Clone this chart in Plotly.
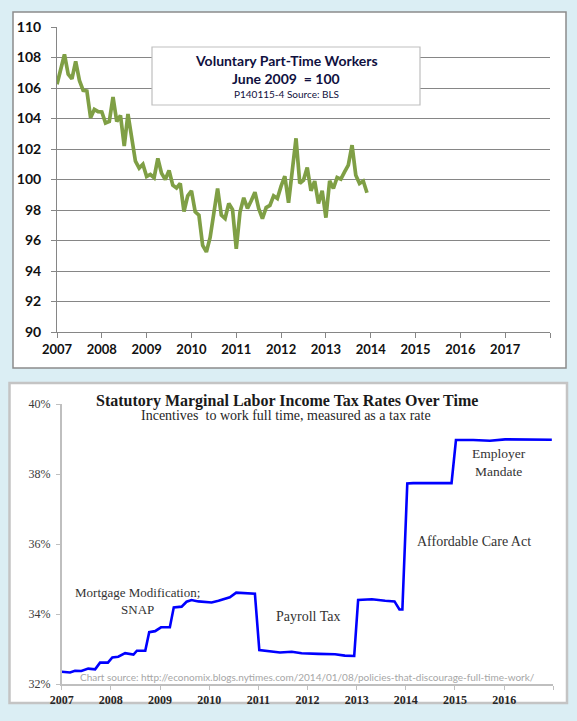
import plotly.graph_objects as go

W, H = 577, 721

# ---------------- Top chart: Voluntary Part-Time Workers (June 2009 = 100), monthly Jan 2007 - Dec 2013
vpt_first_year = 2007
vpt_values = [
    106.25, 107.3, 108.2, 106.9, 106.6, 107.75, 106.5, 105.85, 105.8, 104.05, 104.6, 104.45,
    104.43, 103.7, 103.8, 105.4, 103.8, 104.2, 102.2, 104.3, 102.8, 101.2, 100.75, 101.0,
    100.2, 100.33, 100.12, 101.38, 100.4, 100.0, 100.6, 99.63, 99.45, 99.74, 97.9, 98.93,
    99.26, 97.88, 97.66, 95.68, 95.25, 96.2, 97.8, 99.41, 97.66, 97.44, 98.43, 98.03,
    95.46, 97.86, 98.8, 98.1, 98.6, 99.17, 98.1, 97.44, 98.16, 98.3, 98.93, 98.75,
    99.56, 100.22, 98.47, 100.6, 102.7, 99.74, 99.96, 100.79, 99.26, 99.89, 98.43, 99.26,
    97.5, 99.91, 99.41, 100.13, 100.02, 100.5, 100.94, 102.25, 100.28, 99.74, 99.9, 99.13,
]
vpt_x = [vpt_first_year + i / 12 for i in range(len(vpt_values))]
top_year_ticks = list(range(2007, 2019))
top_year_labels = [str(y) for y in range(2007, 2018)] + [""]
top_value_ticks = list(range(90, 111, 2))

# ---------------- Bottom chart: Statutory marginal labor income tax rates (%)
tax_year = [
    2007.0, 2007.17, 2007.27, 2007.4, 2007.54, 2007.68, 2007.78, 2007.94, 2008.03, 2008.15,
    2008.29, 2008.46, 2008.53, 2008.7, 2008.78, 2008.9, 2009.02, 2009.2, 2009.28, 2009.44,
    2009.54, 2009.64, 2009.78, 2010.05, 2010.19, 2010.32, 2010.42, 2010.55, 2010.93, 2011.02,
    2011.2, 2011.44, 2011.68, 2011.88, 2012.22, 2012.56, 2012.76, 2012.95, 2013.03, 2013.31,
    2013.58, 2013.77, 2013.87, 2013.93, 2014.03, 2014.15, 2014.93, 2015.02, 2015.37, 2015.71,
    2016.02, 2016.39, 2016.97,
]
tax_rate = [
    32.35, 32.33, 32.38, 32.37, 32.44, 32.42, 32.61, 32.61, 32.76, 32.78,
    32.88, 32.84, 32.95, 32.95, 33.48, 33.51, 33.62, 33.62, 34.19, 34.21,
    34.35, 34.4, 34.36, 34.33, 34.38, 34.44, 34.48, 34.61, 34.58, 32.97,
    32.94, 32.9, 32.92, 32.88, 32.86, 32.85, 32.81, 32.8, 34.4, 34.42,
    34.38, 34.36, 34.13, 34.13, 37.73, 37.74, 37.74, 38.97, 38.97, 38.95,
    38.99, 38.98, 38.98,
]
bot_year_ticks = list(range(2007, 2018))
bot_year_labels = [str(y) for y in range(2007, 2017)] + [""]
bot_rate_ticks = list(range(32, 41, 2))
bot_rate_labels = [f"{v}%" for v in bot_rate_ticks]


def px(x):
    return x / W


def py(y):
    return 1 - y / H


fig = go.Figure()
fig.add_trace(go.Scatter(
    x=vpt_x, y=vpt_values, mode="lines", xaxis="x", yaxis="y",
    line=dict(color="#7F9F45", width=3.7), hoverinfo="skip",
))
fig.add_trace(go.Scatter(
    x=tax_year, y=tax_rate, mode="lines", xaxis="x2", yaxis="y2",
    line=dict(color="#0000FF", width=2.6), hoverinfo="skip",
))

calibri_like = "Lato"
serif = "Liberation Serif"

fig.update_layout(
    width=W, height=H, margin=dict(l=0, r=0, t=0, b=0),
    paper_bgcolor="#DBEEF4", plot_bgcolor="white", showlegend=False,
    xaxis=dict(
        domain=[px(57), px(550)], range=[2007, 2018], anchor="y", automargin=False,
        tickvals=top_year_ticks, ticktext=top_year_labels,
        showgrid=False, zeroline=False, showline=True, linecolor="#868686", linewidth=1,
        ticks="outside", ticklen=5, tickcolor="#868686",
        tickfont=dict(family=calibri_like, size=13, color="#111111", weight="bold"),
    ),
    yaxis=dict(
        domain=[py(332), py(27)], range=[90, 110], anchor="x", automargin=False,
        tickvals=top_value_ticks, ticklabelstandoff=7,
        showgrid=True, gridcolor="#868686", gridwidth=1, zeroline=False,
        showline=True, linecolor="#868686", linewidth=1,
        ticks="outside", ticklen=5, tickcolor="#868686",
        tickfont=dict(family=calibri_like, size=14, color="#111111", weight="bold"),
    ),
    xaxis2=dict(
        domain=[px(61.7), px(553.3)], range=[2007, 2017], anchor="y2", automargin=False,
        tickvals=bot_year_ticks, ticktext=bot_year_labels,
        showgrid=False, zeroline=False, showline=True, linecolor="#BFBFBF", linewidth=1.5,
        ticks="outside", ticklen=4, tickcolor="#BFBFBF",
        tickfont=dict(family=serif, size=12, color="#262626", weight="bold"),
    ),
    yaxis2=dict(
        domain=[py(684), py(404)], range=[32, 40], anchor="x2", automargin=False,
        tickvals=bot_rate_ticks, ticktext=bot_rate_labels, ticklabelstandoff=3,
        showgrid=False, zeroline=False, showline=True, linecolor="#BFBFBF", linewidth=1.5,
        ticks="outside", ticklen=4, tickcolor="#BFBFBF",
        tickfont=dict(family=serif, size=12, color="#3A3A3A"),
    ),
    shapes=[
        dict(type="rect", xref="paper", yref="paper", layer="below",
             x0=px(13), x1=px(566), y0=py(368), y1=py(12),
             fillcolor="white", line=dict(color="#8C8C8C", width=1.5)),
        dict(type="rect", xref="paper", yref="paper", layer="below",
             x0=px(9.5), x1=px(567), y0=py(703), y1=py(383),
             fillcolor="white", line=dict(color="#C4C4C4", width=2.5)),
        dict(type="rect", xref="paper", yref="paper", layer="above",
             x0=px(152), x1=px(420), y0=py(105), y1=py(47),
             fillcolor="white", line=dict(color="#BFBFBF", width=1.2)),
    ],
)

navy = "#101040"
annos = [
    dict(text="<b>Voluntary Part-Time Workers</b>", x=286, y=61, size=14, family=calibri_like, color=navy),
    dict(text="<b>June 2009  = 100</b>", x=286, y=79, size=14, family=calibri_like, color=navy),
    dict(text="P140115-4 Source: BLS", x=286, y=94, size=10, family=calibri_like, color=navy),
    dict(text="<b>Statutory Marginal Labor Income Tax Rates Over Time</b>", x=287, y=401, size=16, family=serif, color="#1a1a1a"),
    dict(text="Incentives  to work full time, measured as a tax rate", x=286, y=415, size=14, family=serif, color="#262626"),
    dict(text="Mortgage Modification;<br>SNAP", x=137.5, y=600.5, size=13, family=serif, color="#333333"),
    dict(text="Payroll Tax", x=308, y=616, size=14, family=serif, color="#333333"),
    dict(text="Affordable Care Act", x=474, y=541, size=14, family=serif, color="#333333"),
    dict(text="Employer<br>Mandate", x=499, y=462.5, size=13.5, family=serif, color="#333333"),
    dict(text="Chart source: http://economix.blogs.nytimes.com/2014/01/08/policies-that-discourage-full-time-work/",
         x=307.5, y=677, size=10, family=calibri_like, color="#A6A6A6"),
]
for a in annos:
    fig.add_annotation(
        text=a["text"], x=px(a["x"]), y=py(a["y"]), xref="paper", yref="paper",
        xanchor="center", yanchor="middle", align="center", showarrow=False,
        font=dict(family=a["family"], size=a["size"], color=a["color"]),
    )

fig.write_html("out.html", config={"displayModeBar": False})
